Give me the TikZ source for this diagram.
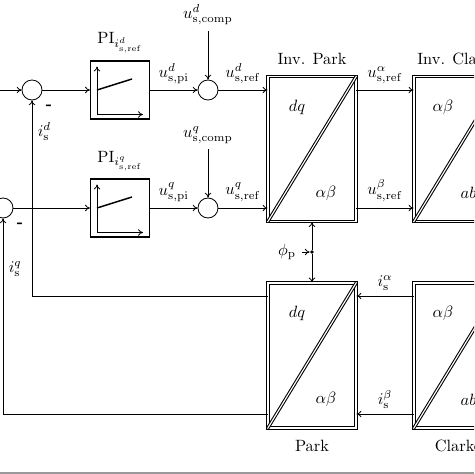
\documentclass[tikz,border=0pt]{standalone}
\usepackage{amsmath,amssymb}
\usepackage{tikz}
\usetikzlibrary{arrows.meta,positioning}

\begin{document}
\begin{tikzpicture}[
  x=0.215mm, y=-0.215mm,
  line width=0.5pt,
  >={To[length=3pt,width=4pt]},
  sum/.style={circle, draw, minimum size=4.3mm, inner sep=0pt},
  piblock/.style={draw, line width=0.9pt, minimum width=12.6mm,
                  minimum height=12.4mm, inner sep=0pt},
  trafo/.style={draw, double, double distance=0.7pt, line width=0.65pt,
                minimum width=18.9mm, minimum height=31.2mm, inner sep=0pt},
  diag/.style={double, double distance=0.7pt, line width=0.65pt},
  ramp/.style={line width=0.9pt},
  minus/.style={font=\bfseries}
]
\useasboundingbox (0,0) rectangle (474,474);
\clip (0,0) rectangle (474,474);

% summing points and controllers
\node[sum] (sumd) at (32,90) {};
\node[sum] (sumq) at (3,208) {};
\node[piblock] (pid) at (120,90) {};
\node[piblock] (piq) at (120,208) {};
\node[sum] (compd) at (208,90) {};
\node[sum] (compq) at (208,208) {};

% transformations
\node[trafo] (ipark) at (312,149) {};
\node[trafo] (iclarke) at (458,149) {};
\node[trafo] (park) at (312,355.5) {};
\node[trafo] (clarke) at (458,355.5) {};
\draw[diag] (ipark.south west) -- (ipark.north east);
\draw[diag] (iclarke.south west) -- (iclarke.north east);
\draw[diag] (park.south west) -- (park.north east);
\draw[diag] (clarke.south west) -- (clarke.north east);

\node (ipdq) at ([shift={(-15,-42)}]ipark) {$dq$};
\node (ipab) at ([shift={(14,44)}]ipark) {$\alpha\beta$};
\node (icab) at ([shift={(-15,-42)}]iclarke) {$\alpha\beta$};
\node (icabc) at ([shift={(14,44)}]iclarke) {$abc$};
\node (pkdq) at ([shift={(-15,-42)}]park) {$dq$};
\node (pkab) at ([shift={(14,44)}]park) {$\alpha\beta$};
\node (clab) at ([shift={(-15,-42)}]clarke) {$\alpha\beta$};
\node (clabc) at ([shift={(14,44)}]clarke) {$abc$};

% titles
\node[above=1.2mm of ipark] (tipark) {Inv. Park};
\node[above=1.2mm of iclarke] (ticlarke) {Inv. Clarke};
\node[below=1.2mm of park] (tpark) {Park};
\node[below=1.2mm of clarke] (tclarke) {Clarke};
\node[above=0.3mm of pid] (tpid) {PI$_{i^d_{\mathrm{s,ref}}}$};
\node[above=0.3mm of piq] (tpiq) {PI$_{i^q_{\mathrm{s,ref}}}$};

% PI characteristic
\draw[->] ([shift={(-23,24.5)}]pid.center) coordinate (od) -- ++(0,-48);
\draw[->] (od) -- ++(46,0);
\draw[ramp] ([shift={(-23,0)}]pid.center) -- ++(35,-11);
\draw[->] ([shift={(-23,24.5)}]piq.center) coordinate (oq) -- ++(0,-48);
\draw[->] (oq) -- ++(46,0);
\draw[ramp] ([shift={(-23,0)}]piq.center) -- ++(35,-11);

% signals
\coordinate (ind) at (-10,90);
\coordinate (fbd) at (32,296);
\coordinate (fbq) at (3,414);
\draw[->] (ind) -- (sumd);
\draw[->] (sumd) -- (pid);
\draw[->] (sumq) -- (piq);
\draw[->] (pid) -- node[above] {$u^d_{\mathrm{s,pi}}$} (compd);
\draw[->] (piq) -- node[above] {$u^q_{\mathrm{s,pi}}$} (compq);

\node (ucompd) at (208,15) {$u^d_{\mathrm{s,comp}}$};
\node (ucompq) at (208,135) {$u^q_{\mathrm{s,comp}}$};
\draw[->] (ucompd) -- (compd);
\draw[->] (ucompq) -- (compq);

\draw[->] (compd) -- node[above] {$u^d_{\mathrm{s,ref}}$} (ipark.west |- compd);
\draw[->] (compq) -- node[above] {$u^q_{\mathrm{s,ref}}$} (ipark.west |- compq);
\draw[->] (ipark.east |- compd) -- node[above] {$u^\alpha_{\mathrm{s,ref}}$} (iclarke.west |- compd);
\draw[->] (ipark.east |- compq) -- node[above] {$u^\beta_{\mathrm{s,ref}}$} (iclarke.west |- compq);
\draw[->] (clarke.west |- fbd) -- node[above] {$i^\alpha_{\mathrm{s}}$} (park.east |- fbd);
\draw[->] (clarke.west |- fbq) -- node[above] {$i^\beta_{\mathrm{s}}$} (park.east |- fbq);

% feedback
\draw[->] (park.west |- fbd) -| node[right, pos=0.92] {$i^d_{\mathrm{s}}$} (sumd);
\draw[->] (park.west |- fbq) -| node[right, pos=0.87] {$i^q_{\mathrm{s}}$} (sumq);
\node[minus] (md) at (49,107) {-};
\node[minus] (mq) at (20,225) {-};

% angle
\node[circle, fill, inner sep=0.8pt] (pdot) at (312,252) {};
\node (phip) at (287,252) {$\phi_{\mathrm{p}}$};
\draw[->] (phip) -- (pdot);
\draw[->] (pdot) -- (ipark);
\draw[->] (pdot) -- (park);

\fill[black!40] (0,471.5) rectangle (474,480);
\end{tikzpicture}
\end{document}
